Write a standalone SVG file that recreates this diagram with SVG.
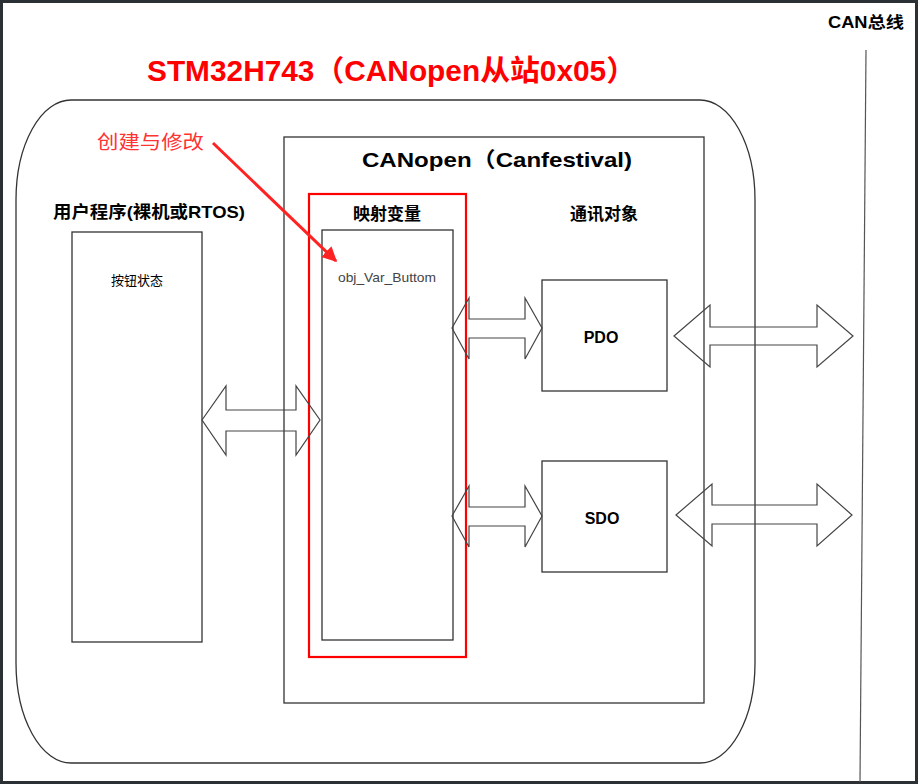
<svg xmlns="http://www.w3.org/2000/svg" width="918" height="784" viewBox="0 0 918 784">
<style>
.t{font-family:"Liberation Sans","Noto Sans CJK SC",sans-serif;fill:#000}
.b{font-weight:bold}
.box{fill:none;stroke:#333;stroke-width:1.3}
.arr{fill:none;stroke:#444;stroke-width:1.2}
</style>
<defs><marker id="rh" viewBox="0 0 10 10" refX="9" refY="5" markerWidth="5" markerHeight="5" orient="auto"><path d="M0,0 L10,5 L0,10 z" fill="#f22"/></marker></defs>
<rect x="0" y="0" width="918" height="784" fill="#fff"/>
<rect x="1.5" y="1.5" width="915" height="781" fill="none" stroke="#2b3035" stroke-width="3"/>
<g id="bus"><line x1="866" y1="50" x2="860" y2="782" stroke="#555" stroke-width="1.2"/><text class="t b" x="828" y="28" font-size="16" textLength="76" lengthAdjust="spacingAndGlyphs">CAN总线</text></g>
<g id="title"><text class="t b" x="147" y="81" font-size="29" textLength="489" lengthAdjust="spacingAndGlyphs" style="fill:#f00">STM32H743（CANopen从站0x05）</text></g>
<g id="mcu"><rect x="16" y="100" width="739" height="663" rx="55" ry="100" class="box" stroke="#555"/></g>
<g id="canopen"><rect x="284" y="137" width="420" height="566" class="box"/><text class="t b" x="362" y="167" font-size="21" textLength="270" lengthAdjust="spacingAndGlyphs">CANopen（Canfestival)</text></g>
<g id="user"><text class="t b" x="53" y="218" font-size="17" textLength="192" lengthAdjust="spacingAndGlyphs">用户程序(裸机或RTOS)</text><rect x="72" y="232" width="130" height="410" class="box"/><text class="t" x="137" y="285" font-size="13" text-anchor="middle">按钮状态</text></g>
<g id="map"><rect x="309" y="194" width="157" height="463" fill="none" stroke="#f00" stroke-width="2.2"/><text class="t b" x="387" y="220" font-size="17" text-anchor="middle">映射变量</text><rect x="322" y="230" width="131" height="410" class="box"/><text class="t" x="338" y="282" font-size="13" textLength="98" lengthAdjust="spacingAndGlyphs" style="fill:#444">obj_Var_Buttom</text></g>
<g id="comm"><text class="t b" x="604" y="220" font-size="17" text-anchor="middle">通讯对象</text></g>
<g id="pdo"><rect x="542" y="280" width="125" height="111" class="box"/><text class="t b" x="601" y="343" font-size="16" text-anchor="middle">PDO</text></g>
<g id="sdo"><rect x="542" y="461" width="125" height="111" class="box"/><text class="t b" x="602" y="524" font-size="16" text-anchor="middle">SDO</text></g>
<g id="connectors">
<path class="arr" d="M202,420 L226,386 L226,410 L296,410 L296,386 L320,420 L296,455 L296,431 L226,431 L226,455 Z"/>
<path class="arr" d="M452,328 L469,298 L469,319 L525,319 L525,298 L542,328 L525,359 L525,338 L469,338 L469,359 Z"/>
<path class="arr" d="M452,516 L469,486 L469,507 L525,507 L525,486 L542,516 L525,547 L525,526 L469,526 L469,547 Z"/>
<path class="arr" d="M674,336 L710,305 L710,327 L817,327 L817,305 L853,336 L817,367 L817,345 L710,345 L710,367 Z"/>
<path class="arr" d="M676,515 L712,484 L712,505 L817,505 L817,484 L852,515 L817,546 L817,524 L712,524 L712,546 Z"/>
<line x1="213" y1="143" x2="336" y2="261" stroke="#f22" stroke-width="3" marker-end="url(#rh)"/>
</g>
<g id="note"><text class="t" x="97" y="149" font-size="19" textLength="107" lengthAdjust="spacingAndGlyphs" style="fill:#f33">创建与修改</text></g>
</svg>
